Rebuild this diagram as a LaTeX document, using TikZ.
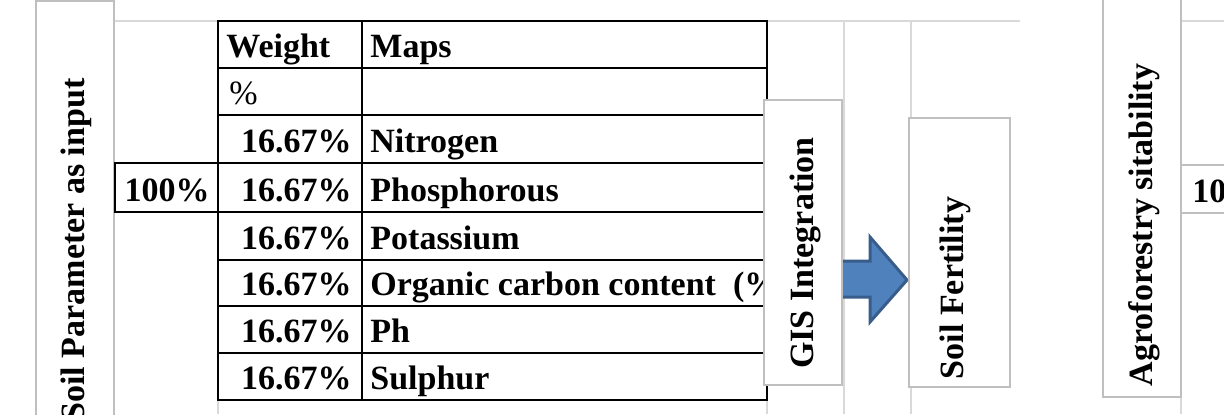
\documentclass[tikz,border=0pt]{standalone}
\usepackage{fontspec}
\setmainfont{Liberation Serif}
\usetikzlibrary{positioning}
\definecolor{boxgray}{RGB}{191,191,191}
\definecolor{gridgray}{RGB}{217,217,217}
\definecolor{arrowblue}{RGB}{79,129,189}
\definecolor{arrowedge}{RGB}{56,93,138}
\tikzset{
	cell/.style={font=\fontsize{17}{19}\selectfont\bfseries, inner sep=0pt},
	sidebox/.style={draw=boxgray, line width=1pt, fill=white, inner sep=0pt},
	sidetext/.style={font=\fontsize{17}{19}\selectfont\bfseries, rotate=90, inner sep=0pt},
	gridline/.style={draw=gridgray, line width=1pt}
}
\begin{document}
\begin{tikzpicture}[x=0.5pt,y=-0.5pt]
		\useasboundingbox (0,0) rectangle (1224,414);
		\begin{scope}
			\clip (0,0) rectangle (1224,414);
			% sheet grid behind
			\draw[gridline] (114,21) -- (1020,21);
			\draw[gridline] (1181,21) -- (1224,21);
			\foreach \gx in {844,911} \draw[gridline] (\gx,21) -- (\gx,414);
			\foreach \gx/\gy in {218/400,767/385,1181/397} \draw[gridline] (\gx,\gy) -- (\gx,414);
			% input column
			\node[sidebox, minimum width=39pt, minimum height=215pt] (inputbox) at (75,216) {};
			\node[sidetext] (inputlabel) at (76,250) {Soil Parameter as input};
			% weight table
			\foreach \ry in {68,115,163,212,260,306,353} \draw[line width=0.75pt] (218,\ry) -- (767,\ry);
			\draw[line width=0.75pt] (362,21) -- (362,400);
			\draw[line width=1pt] (218,21) rectangle (767,400);
			\node[draw, line width=1pt, minimum width=51.5pt, minimum height=24.5pt, inner sep=0pt] (totalbox) at (166.5,187.5) {};
			\node[cell, anchor=base east] (total) at (210,201) {100\%};
			\node[cell, anchor=base west] (weighthead) at (226,57) {Weight};
			\node[cell, anchor=base west] (mapshead) at (370,57) {Maps};
			\node[cell, anchor=base west, font=\fontsize{17}{19}\selectfont] (unit) at (229,104) {\%};
			\foreach \yb/\mapname [count=\i] in {163/Nitrogen, 212/Phosphorous, 260/Potassium, 306/Organic carbon content\ \ (\%), 353/Ph, 400/Sulphur}
			{
				\node[cell, anchor=base east] (w\i) at (352,\yb-11) {16.67\%};
				\node[cell, anchor=base west] (m\i) at (370,\yb-11) {\mapname};
			}
			% block arrow
			\filldraw[fill=arrowblue, draw=arrowedge, line width=1.5pt] (836,261) -- (870,261) -- (870,237) -- (907,280) -- (870,322) -- (870,297) -- (836,297) -- cycle;
			% gis step
			\node[sidebox, minimum width=39pt, minimum height=142.5pt] (gisbox) at (803,242.5) {};
			\node[sidetext] (gislabel) at (805,253) {GIS Integration};
			% fertility step
			\node[sidebox, minimum width=50.5pt, minimum height=134.5pt] (fertbox) at (959.5,252.5) {};
			\node[sidetext] (fertlabel) at (955,288) {Soil Fertility};
			% suitability column
			\node[sidebox, minimum width=39pt, minimum height=201pt] (agrobox) at (1142,196) {};
			\node[sidetext] (agrolabel) at (1144,225) {Agroforestry sitability};
			\node[sidebox, minimum width=29.5pt, minimum height=24pt] (agrototalbox) at (1210.5,189) {};
			\node[cell, anchor=base west] (agrototal) at (1192,202) {100\%};
		\end{scope}
\end{tikzpicture}
\end{document}
